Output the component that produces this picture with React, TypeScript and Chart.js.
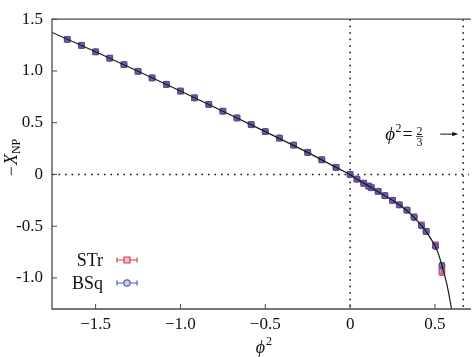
import React, { useEffect, useRef } from "react";
import { Chart, registerables } from "chart.js";

Chart.register(...registerables);

// ---- data ----
const pointPhi2 = [
  -1.667, -1.583, -1.5, -1.417, -1.333, -1.25, -1.167, -1.083, -1.0, -0.917, -0.833,
  -0.75, -0.667, -0.583, -0.5, -0.417, -0.333, -0.25, -0.167, -0.083, 0,
  0.04, 0.08, 0.11, 0.125, 0.165, 0.205, 0.25, 0.29, 0.335, 0.377, 0.42, 0.448, 0.503, 0.541,
];
const strValues = [
  1.306, 1.247, 1.185, 1.123, 1.062, 0.997, 0.932, 0.87, 0.806, 0.741, 0.676,
  0.611, 0.546, 0.481, 0.414, 0.352, 0.284, 0.213, 0.142, 0.068, 0,
  -0.045, -0.085, -0.113, -0.128, -0.163, -0.205, -0.25, -0.293, -0.345, -0.41, -0.487, -0.55, -0.68, -0.935,
];
const bsqValues = [
  1.306, 1.247, 1.185, 1.123, 1.062, 0.997, 0.932, 0.87, 0.806, 0.741, 0.676,
  0.611, 0.546, 0.481, 0.414, 0.352, 0.284, 0.213, 0.142, 0.068, 0,
  -0.045, -0.085, -0.113, -0.128, -0.163, -0.205, -0.25, -0.293, -0.345, -0.415, -0.495, -0.55, -0.695, -0.88,
];
const strErrors = [
  0.004, 0.004, 0.004, 0.004, 0.004, 0.004, 0.004, 0.004, 0.004, 0.004, 0.004,
  0.004, 0.004, 0.004, 0.004, 0.004, 0.004, 0.004, 0.004, 0.004, 0.004,
  0.004, 0.004, 0.004, 0.004, 0.004, 0.004, 0.004, 0.005, 0.005, 0.006, 0.008, 0.01, 0.015, 0.04,
];
const bsqErrors = [
  0.004, 0.004, 0.004, 0.004, 0.004, 0.004, 0.004, 0.004, 0.004, 0.004, 0.004,
  0.004, 0.004, 0.004, 0.004, 0.004, 0.004, 0.004, 0.004, 0.004, 0.004,
  0.004, 0.004, 0.004, 0.004, 0.004, 0.004, 0.004, 0.005, 0.005, 0.006, 0.008, 0.01, 0.012, 0.025,
];
const curvePhi2 = [
  -1.757, -1.5, -1.25, -1.0, -0.75, -0.5, -0.25, -0.1, 0, 0.05, 0.1, 0.15, 0.2, 0.25, 0.3,
  0.35, 0.4, 0.45, 0.5, 0.52, 0.54, 0.555, 0.57, 0.58, 0.59, 0.6, 0.606,
];
const curveValues = [
  1.372, 1.185, 0.997, 0.806, 0.611, 0.414, 0.213, 0.083, 0, -0.055, -0.103, -0.153, -0.2, -0.25, -0.305,
  -0.37, -0.455, -0.555, -0.685, -0.765, -0.87, -0.96, -1.06, -1.14, -1.23, -1.32, -1.4,
];
const xTicks = [-1.5, -1.0, -0.5, 0, 0.5];
const xTickLabels = ["\u22121.5", "\u22121.0", "\u22120.5", "0", "0.5"];
const yTicks = [-1.0, -0.5, 0, 0.5, 1.0, 1.5];
const yTickLabels = ["-1.0", "-0.5", "0", "0.5", "1.0", "1.5"];
const xRange = [-1.757, 0.7];
const yRange = [-1.3, 1.5];
const criticalPhi2 = 2 / 3;
const seriesNames = ["STr", "BSq"];

const RED = "#dc3c55";
const BLUE = "#4f5fae";
const SERIF = "Liberation Serif";
const AXIS = "#4a4a4a";

Chart.defaults.font.family = SERIF;

const decor = {
  id: "decor",
  beforeDatasetsDraw(chart: any) {
    const { ctx, chartArea: a, scales } = chart;
    const x = scales.x, y = scales.y;
    ctx.save();
    ctx.beginPath();
    ctx.rect(a.left, a.top, a.right - a.left, a.bottom - a.top);
    ctx.clip();
    ctx.strokeStyle = "#111";
    ctx.lineWidth = 1.6;
    ctx.setLineDash([1.6, 4.9]);
    const y0 = y.getPixelForValue(0);
    ctx.beginPath(); ctx.moveTo(a.left, y0); ctx.lineTo(a.right, y0); ctx.stroke();
    const x0 = x.getPixelForValue(0);
    ctx.beginPath(); ctx.moveTo(x0, a.top); ctx.lineTo(x0, a.bottom); ctx.stroke();
    const xc = x.getPixelForValue(criticalPhi2);
    ctx.beginPath(); ctx.moveTo(xc, a.top); ctx.lineTo(xc, a.bottom); ctx.stroke();
    ctx.setLineDash([]);
    // error bars
    const sets = [
      { vals: strValues, errs: strErrors, color: RED },
      { vals: bsqValues, errs: bsqErrors, color: BLUE },
    ];
    ctx.lineWidth = 1;
    for (const s of sets) {
      ctx.strokeStyle = s.color;
      pointPhi2.forEach((p, i) => {
        const px = x.getPixelForValue(p);
        const lo = y.getPixelForValue(s.vals[i] - s.errs[i]);
        const hi = y.getPixelForValue(s.vals[i] + s.errs[i]);
        if (lo - hi < 4) return;
        ctx.beginPath();
        ctx.moveTo(px, lo); ctx.lineTo(px, hi);
        ctx.moveTo(px - 3, lo); ctx.lineTo(px + 3, lo);
        ctx.moveTo(px - 3, hi); ctx.lineTo(px + 3, hi);
        ctx.stroke();
      });
    }
    ctx.restore();
  },
  afterDraw(chart: any) {
    const { ctx, chartArea: a, scales } = chart;
    const x = scales.x, y = scales.y;
    ctx.save();
    // frame
    ctx.strokeStyle = AXIS;
    ctx.lineWidth = 1.3;
    ctx.beginPath();
    ctx.moveTo(a.right + 2, a.top);
    ctx.lineTo(a.left, a.top);
    ctx.lineTo(a.left, a.bottom);
    ctx.lineTo(a.right + 2, a.bottom);
    ctx.stroke();
    // inward ticks
    ctx.lineWidth = 1;
    for (const t of xTicks) {
      const px = x.getPixelForValue(t);
      ctx.beginPath(); ctx.moveTo(px, a.bottom); ctx.lineTo(px, a.bottom - 5); ctx.stroke();
    }
    for (const t of yTicks) {
      const py = y.getPixelForValue(t);
      ctx.beginPath(); ctx.moveTo(a.left, py); ctx.lineTo(a.left + 5, py); ctx.stroke();
    }
    ctx.fillStyle = "#111";
    ctx.textBaseline = "alphabetic";
    // x title: phi^2
    {
      ctx.font = `italic 18px ${SERIF}`;
      const w1 = ctx.measureText("\u03d5").width;
      ctx.font = `12px ${SERIF}`;
      const w2 = ctx.measureText("2").width;
      const cx = (a.left + a.right) / 2 + 3;
      const sx = cx - (w1 + w2) / 2;
      ctx.font = `italic 18px ${SERIF}`;
      ctx.fillText("\u03d5", sx, 353);
      ctx.font = `12px ${SERIF}`;
      ctx.fillText("2", sx + w1 + 1, 345);
    }
    // y title: -X_NP rotated
    {
      ctx.save();
      ctx.translate(17, 158);
      ctx.rotate(-Math.PI / 2);
      ctx.font = `18px ${SERIF}`;
      const wm = ctx.measureText("\u2212").width;
      ctx.font = `italic 18px ${SERIF}`;
      const wx = ctx.measureText("X").width;
      ctx.font = `12px ${SERIF}`;
      const wn = ctx.measureText("NP").width;
      let sx = -(wm + wx + wn) / 2;
      ctx.font = `18px ${SERIF}`;
      ctx.fillText("\u2212", sx, 0);
      sx += wm + 1;
      ctx.font = `italic 18px ${SERIF}`;
      ctx.fillText("X", sx, 0);
      sx += wx;
      ctx.font = `12px ${SERIF}`;
      ctx.fillText("NP", sx, 3);
      ctx.restore();
    }
    // annotation phi^2 = 2/3 with arrow
    {
      const ax = x.getPixelForValue(criticalPhi2) - 78;
      const ay = y.getPixelForValue(0.38);
      ctx.font = `italic 19px ${SERIF}`;
      ctx.fillText("\u03d5", ax, ay + 5);
      const w1 = ctx.measureText("\u03d5").width;
      ctx.font = `12px ${SERIF}`;
      ctx.fillText("2", ax + w1 + 0.5, ay - 3);
      ctx.font = `18px ${SERIF}`;
      ctx.fillText("=", ax + w1 + 7.5, ay + 5);
      const fx = ax + w1 + 21.5;
      ctx.font = `12px ${SERIF}`;
      ctx.textAlign = "center";
      ctx.fillText("2", fx + 3, ay);
      ctx.fillText("3", fx + 3, ay + 11);
      ctx.textAlign = "left";
      ctx.lineWidth = 0.8;
      ctx.strokeStyle = "#111";
      ctx.beginPath(); ctx.moveTo(fx - 0.5, ay + 1.5); ctx.lineTo(fx + 6.5, ay + 1.5); ctx.stroke();
      // arrow
      const arEnd = x.getPixelForValue(criticalPhi2) - 5;
      ctx.lineWidth = 1;
      ctx.beginPath(); ctx.moveTo(arEnd - 18, ay - 1); ctx.lineTo(arEnd - 4, ay - 1); ctx.stroke();
      ctx.beginPath();
      ctx.moveTo(arEnd, ay - 1); ctx.lineTo(arEnd - 6, ay - 3.2); ctx.lineTo(arEnd - 6, ay + 1.2);
      ctx.closePath(); ctx.fill();
    }
    // legend
    {
      const rows = [
        { name: seriesNames[0], color: RED, fill: "rgba(220,60,85,0.35)", shape: "rect", py: 260 },
        { name: seriesNames[1], color: BLUE, fill: "rgba(79,95,174,0.3)", shape: "circle", py: 283 },
      ];
      for (const r of rows) {
        ctx.font = `18px ${SERIF}`;
        ctx.fillStyle = "#111";
        ctx.textAlign = "right";
        ctx.textBaseline = "middle";
        ctx.fillText(r.name, 103, r.py + 1);
        ctx.strokeStyle = r.color;
        ctx.lineWidth = 1.2;
        ctx.beginPath();
        ctx.moveTo(117, r.py); ctx.lineTo(137, r.py);
        ctx.moveTo(117, r.py - 2.5); ctx.lineTo(117, r.py + 2.5);
        ctx.moveTo(137, r.py - 2.5); ctx.lineTo(137, r.py + 2.5);
        ctx.stroke();
        ctx.fillStyle = "#fff";
        ctx.beginPath();
        if (r.shape === "rect") ctx.rect(124, r.py - 3, 6, 6);
        else ctx.arc(127, r.py, 3.2, 0, Math.PI * 2);
        ctx.fill();
        ctx.fillStyle = r.fill;
        ctx.fill();
        ctx.stroke();
      }
      ctx.textAlign = "left";
      ctx.textBaseline = "alphabetic";
    }
    ctx.restore();
  },
};

export default function App() {
  const ref = useRef<HTMLCanvasElement | null>(null);
  useEffect(() => {
    document.body.style.margin = "0";
    const canvas = ref.current!;
    const chart = new Chart(canvas, {
      type: "scatter",
      data: {
        datasets: [
          {
            label: "curve",
            data: curvePhi2.map((v, i) => ({ x: v, y: curveValues[i] })),
            showLine: true,
            borderColor: "#1a1a1a",
            borderWidth: 1.2,
            pointRadius: 0,
            order: 0,
          },
          {
            label: seriesNames[1],
            data: pointPhi2.map((v, i) => ({ x: v, y: bsqValues[i] })),
            pointStyle: "circle",
            pointRadius: 3,
            borderColor: "#4a4f9e",
            backgroundColor: "rgba(85,80,160,0.75)",
            borderWidth: 1.1,
            order: 1,
          },
          {
            label: seriesNames[0],
            data: pointPhi2.map((v, i) => ({ x: v, y: strValues[i] })),
            pointStyle: "rect",
            pointRadius: 4,
            borderColor: "#b8456e",
            backgroundColor: "rgba(150,80,140,0.6)",
            borderWidth: 1.1,
            order: 2,
          },
        ],
      },
      options: {
        animation: false,
        responsive: false,
        maintainAspectRatio: false,
        layout: { padding: { top: 7, right: 1, left: 0, bottom: 0 } },
        plugins: { legend: { display: false }, tooltip: { enabled: false } },
        scales: {
          x: {
            type: "linear",
            min: xRange[0],
            max: xRange[1],
            afterBuildTicks: (s: any) => { s.ticks = xTicks.map((v) => ({ value: v })); },
            afterFit: (s: any) => { s.height = 48; },
            ticks: {
              callback: (v: any) => xTickLabels[xTicks.indexOf(Number(v))] ?? "",
              font: { family: SERIF, size: 17 },
              color: "#111",
              padding: 5,
              maxRotation: 0,
              autoSkip: false,
            },
            grid: { display: false, drawTicks: false },
            border: { display: false },
          },
          y: {
            type: "linear",
            min: yRange[0],
            max: yRange[1],
            afterBuildTicks: (s: any) => { s.ticks = yTicks.map((v) => ({ value: v })); },
            afterFit: (s: any) => { s.width = 52; },
            ticks: {
              callback: (v: any) => yTickLabels[yTicks.indexOf(Number(v))] ?? "",
              font: { family: SERIF, size: 17 },
              color: "#111",
              padding: 9,
              autoSkip: false,
            },
            grid: { display: false, drawTicks: false },
            border: { display: false },
          },
        },
      },
      plugins: [decor],
    } as any);
    return () => chart.destroy();
  }, []);
  return (
    <div style={{ width: 474, height: 357, background: "#fff" }}>
      <canvas ref={ref} width={474} height={357} style={{ display: "block", width: 474, height: 357 }} />
    </div>
  );
}
